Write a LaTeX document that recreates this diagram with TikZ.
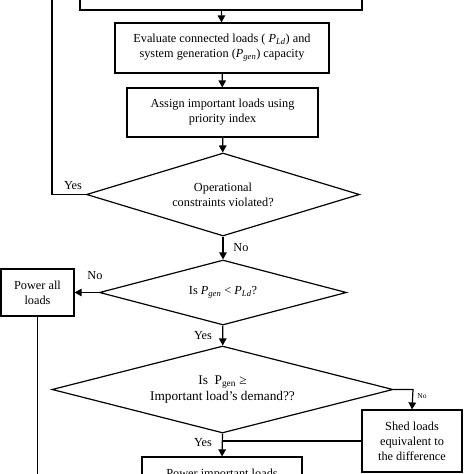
\documentclass[tikz,border=0pt]{standalone}
\usepackage{fontspec}
\setmainfont{Liberation Serif}
\usetikzlibrary{arrows.meta,shapes.geometric}
\begin{document}
\begin{tikzpicture}[x=1pt,y=-1pt, line width=1.2pt,
  box/.style={draw, rectangle, inner sep=0pt, align=center, font=\fontsize{12.3}{15}\selectfont},
  dec/.style={draw, diamond, inner sep=0pt, align=center, font=\fontsize{12.3}{15}\selectfont},
  arr/.style={-{Triangle[length=7pt,width=7.5pt]}},
  lbl/.style={font=\fontsize{12.3}{14}\selectfont, inner sep=0pt}]
\useasboundingbox (0,0) rectangle (474,474);
\clip (0,0) rectangle (474,474);
% boxes
\node[box, minimum width=282pt, minimum height=40pt] (b1) at (221,-10) {};
\node[box, minimum width=214pt, minimum height=50pt] (b2) at (222,48)
  {Evaluate connected loads ( \textit{P}\textsubscript{\textit{Ld}}) and\\system generation (\textit{P}\textsubscript{\textit{gen}}) capacity};
\node[box, minimum width=191pt, minimum height=49pt] (b3) at (222.5,112.5)
  {Assign important loads using\\priority index};
\node[dec, aspect=3.29, minimum width=273pt, minimum height=83pt] (d1) at (223,194.5)
  {Operational\\constraints violated?};
\node[dec, aspect=3.8, minimum width=247pt, minimum height=65pt] (d2) at (223,292.5)
  {Is \textit{P}\textsubscript{\textit{gen}} < \textit{P}\textsubscript{\textit{Ld}}?};
\node[box, minimum width=73pt, minimum height=47pt] (pa) at (37.5,292.5)
  {Power all\\loads};
\node[dec, aspect=3.92, minimum width=341pt, minimum height=87pt, font=\fontsize{13.3}{16}\selectfont] (d3) at (222.5,389.5)
  {Is\ \ P\textsubscript{gen} ≥\\Important load’s demand??};
\node[box, minimum width=100pt, minimum height=62pt] (sh) at (412,441)
  {Shed loads\\equivalent to\\the difference};
\node[box, minimum width=160pt, minimum height=45pt] (pi) at (222,479.5) {};
\node[lbl, anchor=base] (pit) at (222,477.5) {Power important loads};
% free ends
\coordinate (top) at (52,-5);
\coordinate (pbot) at (37.5,480);
\coordinate (nocorner) at (413,389.5);
% connectors
\draw[arr] (b1) -- (b2);
\draw[arr] (b2) -- (b3);
\draw[arr] (b3) -- (d1);
\draw (d1.west) -| (top);
\draw[arr] (d1) -- (d2);
\draw[arr] (d2.west) -- (pa.east);
\draw (pa.south) -- (pbot);
\draw[arr] (d2) -- (d3);
\draw[arr] (d3.east) -- (nocorner) -- (sh.north);
\draw (sh.west) -- (d3.south |- sh.west);
\draw[arr] (d3.south) -- (pi.north);
% labels
\node[lbl] (l1) at (73,186) {Yes};
\node[lbl] (l2) at (241,248) {No};
\node[lbl] (l3) at (95,276) {No};
\node[lbl] (l4) at (203,336) {Yes};
\node[lbl, font=\fontsize{7.5}{9}\selectfont] (l5) at (422,396) {No};
\node[lbl] (l6) at (203,443) {Yes};
\end{tikzpicture}
\end{document}
